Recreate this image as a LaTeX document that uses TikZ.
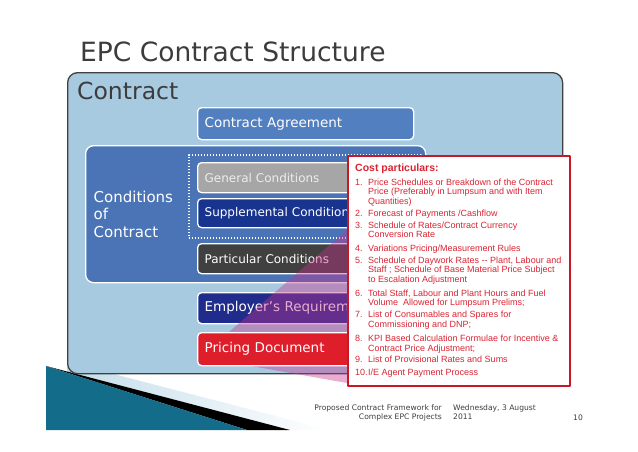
\documentclass[tikz,border=0pt]{standalone}
\usepackage{fontspec}
\setmainfont{DejaVu Sans}
\newfontfamily\arialfont{Liberation Sans}
\definecolor{slidegray}{RGB}{60,60,60}
\definecolor{outerblue}{RGB}{168,202,225}
\definecolor{condblue}{RGB}{74,116,182}
\definecolor{agreeblue}{RGB}{82,127,192}
\definecolor{gencond}{RGB}{166,166,166}
\definecolor{suppnavy}{RGB}{24,52,142}
\definecolor{partgray}{RGB}{64,64,64}
\definecolor{emplnavy}{RGB}{32,44,140}
\definecolor{pricered}{RGB}{222,30,42}
\definecolor{costred}{RGB}{218,36,50}
\definecolor{costframe}{RGB}{200,24,40}
\definecolor{pointerpink}{RGB}{200,50,140}
\definecolor{tealdark}{RGB}{18,108,138}
\definecolor{teallight}{RGB}{72,166,196}
\definecolor{stripeblue}{RGB}{196,222,234}
\begin{document}
\begin{tikzpicture}[x=1pt,y=-1pt,line join=round,
    pane/.style={draw=white,line width=1.3pt,rounded corners=4pt,anchor=north west,
      minimum width=216pt,text width=202pt,inner sep=7pt,align=left,text=white},
    panebig/.style={pane,font=\fontsize{13.5}{15}\selectfont},
    panesmall/.style={pane,font=\fontsize{12}{14}\selectfont},
    costnum/.style={inner sep=0pt,anchor=north west,text=costred,
      font=\arialfont\fontsize{9}{9.8}\selectfont},
    costtext/.style={costnum,align=left},
    footer/.style={inner sep=0pt,text=slidegray,font=\fontsize{7.6}{9}\selectfont}]
  \useasboundingbox (0,0) rectangle (638,451);
  % slide decoration, bottom left
  \shade[left color=stripeblue,right color=white] (67,362) -- (330,430) -- (290,430) -- (67,372) -- cycle;
  \fill[black] (46,366) -- (290,430) -- (247,430) -- cycle;
  \shade[left color=tealdark,middle color=teallight,right color=tealdark] (46,366) -- (247,430) -- (46,430) -- cycle;
  % title and outer box
  \node[anchor=base west,inner sep=0pt,text=slidegray,font=\fontsize{26.5}{30}\selectfont] (title) at (80,61) {EPC Contract Structure};
  \node[draw=partgray,fill=outerblue,line width=1.3pt,rounded corners=10pt,anchor=north west,
    minimum width=495pt,minimum height=301pt] (contract) at (67,72) {};
  \node[anchor=base west,inner sep=0pt,text=slidegray,font=\fontsize{23.5}{26}\selectfont] (contractlbl) at (77,99) {Contract};
  \node[panebig,fill=agreeblue,minimum height=32pt] (agreement) at (197,107) {Contract Agreement};
  % conditions of contract
  \node[draw=white,fill=condblue,line width=1.3pt,rounded corners=8pt,anchor=north west,
    minimum width=340pt,minimum height=137pt,text width=324pt,inner sep=8pt,align=left,
    text=white,font=\fontsize{15}{17.5}\selectfont] (conditions) at (85,145) {Conditions\\of\\Contract};
  \node[draw=white,line width=1.6pt,dash pattern=on 1.2pt off 1.8pt,anchor=north west,
    minimum width=232pt,minimum height=83pt] (group) at (188,154) {};
  \node[panesmall,fill=gencond,text=white!93!black,minimum height=30pt] (general) at (197,162) {General Conditions};
  \node[panesmall,fill=suppnavy,minimum height=29pt] (supplemental) at (197,198) {Supplemental Conditions};
  \node[panesmall,fill=partgray,minimum height=30pt] (particular) at (197,243) {Particular Conditions};
  \node[panebig,fill=emplnavy,minimum height=31pt] (employer) at (197,292) {Employer’s Requirements};
  % call-out pointer, then the pricing box over its tip
  \coordinate (tip) at (200,357);
  \fill[pointerpink,opacity=0.4] (tip) -- (347,230) -- (347,383) -- cycle;
  \node[panebig,fill=pricered,minimum height=33pt] (pricing) at (197,332) {Pricing Document};
  \node[draw=costframe,fill=white,line width=1.8pt,anchor=north west,inner sep=0pt,
    minimum width=222pt,minimum height=230pt] (cost) at (347,155) {};
  \node[anchor=base west,inner sep=0pt,text=costred,font=\arialfont\bfseries\fontsize{10.5}{12}\selectfont] (costhead) at (355,171) {Cost particulars:};
  \foreach \i/\y/\t in {
      1/178.4/{Price Schedules or Breakdown of the Contract\\Price (Preferably in Lumpsum and with Item\\Quantities)},
      2/209.4/{Forecast of Payments /Cashflow},
      3/221.4/{Schedule of Rates/Contract Currency\\Conversion Rate},
      4/244.4/{Variations Pricing/Measurement Rules},
      5/256.4/{Schedule of Daywork Rates -- Plant, Labour and\\Staff ; Schedule of Base Material Price Subject\\to Escalation Adjustment},
      6/289.4/{Total Staff, Labour and Plant Hours and Fuel\\Volume\ \ Allowed for Lumpsum Prelims;},
      7/311/{List of Consumables and Spares for\\Commissioning and DNP;},
      8/335/{KPI Based Calculation Formulae for Incentive \&\\Contract Price Adjustment;},
      9/356/{List of Provisional Rates and Sums},
      10/368.6/{I/E Agent Payment Process}}{
    \node[costnum] (num\i) at (355,\y) {\vphantom{Pl}\i.};
    \node[costtext] (item\i) at (368,\y) {\vphantom{Pl}\t};
  }
  % footer
  \node[footer,anchor=north east,align=right] (framework) at (442,404.5) {Proposed Contract Framework for\\Complex EPC Projects};
  \node[footer,anchor=north west,align=left] (date) at (453,404.5) {Wednesday, 3 August\\2011};
  \node[footer,anchor=base west] (page) at (573,420) {10};
\end{tikzpicture}
\end{document}
